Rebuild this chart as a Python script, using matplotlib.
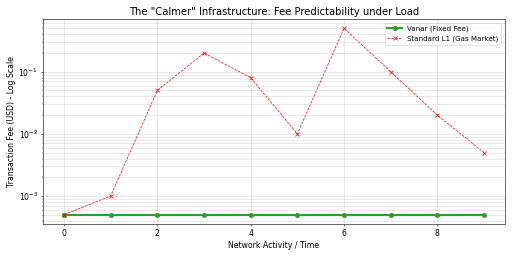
import matplotlib
matplotlib.use("Agg")
import matplotlib.pyplot as plt
import numpy as np

time_steps = list(range(10))
vanar_fee = [0.0005] * 10
l1_fee = [0.0005, 0.001, 0.05, 0.2, 0.08, 0.01, 0.5, 0.1, 0.02, 0.005]

fig, ax = plt.subplots(figsize=(10, 5), dpi=51.2)
ax.plot(time_steps, vanar_fee, color="#2ca02c", marker="o", linewidth=3, label="Vanar (Fixed Fee)")
ax.plot(time_steps, l1_fee, color="red", marker="x", linestyle="--", linewidth=1, label="Standard L1 (Gas Market)")
ax.set_yscale("log")
ax.set_title('The "Calmer" Infrastructure: Fee Predictability under Load', fontsize=14)
ax.set_xlabel("Network Activity / Time", fontsize=11)
ax.set_ylabel("Transaction Fee (USD) - Log Scale", fontsize=11)
ax.tick_params(labelsize=11)
ax.grid(True, which="both", linestyle="-", alpha=0.5)
ax.legend(loc="upper right", fontsize=10)
fig.subplots_adjust(left=43 / 512, right=505 / 512, top=1 - 19 / 256, bottom=1 - 224 / 256)
fig.savefig("out.png")
